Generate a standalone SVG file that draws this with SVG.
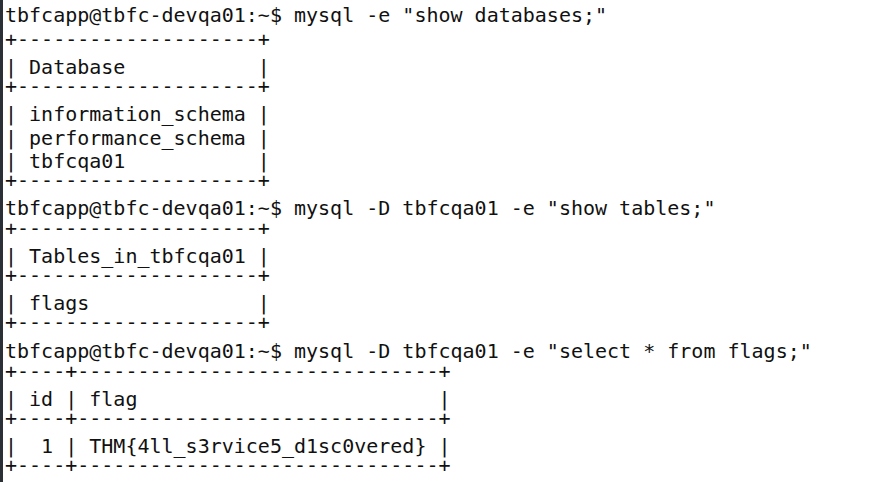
<svg xmlns="http://www.w3.org/2000/svg" width="870" height="482" viewBox="0 0 870 482">
<style>text{font-family:"DejaVu Sans Mono",monospace;font-size:20px;fill:#111;white-space:pre}</style>
<rect width="870" height="482" fill="#fff"/>
<rect x="0" y="0" width="3" height="482" fill="#2b2f36"/>
<g id="terminal" xml:space="preserve">
<text x="5" y="22">tbfcapp@tbfc-devqa01:~$ mysql -e "show databases;"</text>
<text x="5" y="46">+--------------------+</text>
<text x="5" y="74">| Database           |</text>
<text x="5" y="93">+--------------------+</text>
<text x="5" y="121">| information_schema |</text>
<text x="5" y="145">| performance_schema |</text>
<text x="5" y="168">| tbfcqa01           |</text>
<text x="5" y="187">+--------------------+</text>
<text x="5" y="215">tbfcapp@tbfc-devqa01:~$ mysql -D tbfcqa01 -e "show tables;"</text>
<text x="5" y="235">+--------------------+</text>
<text x="5" y="263">| Tables_in_tbfcqa01 |</text>
<text x="5" y="282">+--------------------+</text>
<text x="5" y="310">| flags              |</text>
<text x="5" y="329">+--------------------+</text>
<text x="5" y="358">tbfcapp@tbfc-devqa01:~$ mysql -D tbfcqa01 -e "select * from flags;"</text>
<text x="5" y="378">+----+------------------------------+</text>
<text x="5" y="406">| id | flag                         |</text>
<text x="5" y="425">+----+------------------------------+</text>
<text x="5" y="453">|  1 | THM{4ll_s3rvice5_d1sc0vered} |</text>
<text x="5" y="472">+----+------------------------------+</text>
</g>
</svg>
